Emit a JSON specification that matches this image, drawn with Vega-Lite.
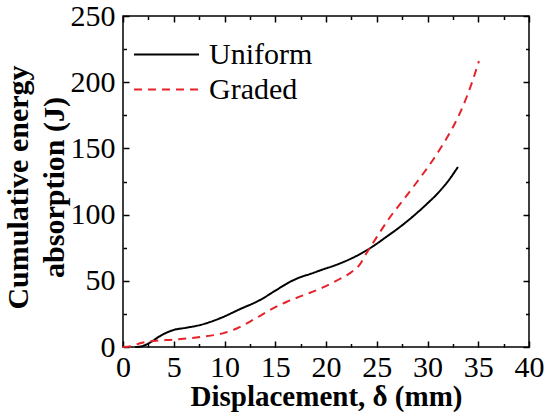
{
  "$schema": "https://vega.github.io/schema/vega-lite/v6.json",
  "width": 406,
  "height": 331,
  "autosize": {"type": "none"},
  "padding": {"left": 123, "top": 16, "right": 21, "bottom": 73},
  "config": {
    "font": "Liberation Serif",
    "view": {"stroke": "#000000", "strokeWidth": 1.5},
    "axis": {"domain": false, "grid": false, "tickColor": "#000000", "tickWidth": 1.5, "labelColor": "#000000", "titleColor": "#000000", "labelFontSize": 30, "labelFont": "Liberation Serif", "titleFont": "Liberation Serif", "titleFontSize": 29, "titleFontWeight": "bold", "labelOverlap": false, "labelFlush": false}
  },
  "data": {
    "values": [
      {"series": "Uniform", "d": 1.2, "E": 0},
      {"series": "Uniform", "d": 1.7, "E": 0.3},
      {"series": "Uniform", "d": 2.66, "E": 3.3},
      {"series": "Uniform", "d": 3.65, "E": 8.3},
      {"series": "Uniform", "d": 4.96, "E": 12.8},
      {"series": "Uniform", "d": 6.27, "E": 14.6},
      {"series": "Uniform", "d": 7.6, "E": 16.6},
      {"series": "Uniform", "d": 9.56, "E": 21.7},
      {"series": "Uniform", "d": 11.5, "E": 28.5},
      {"series": "Uniform", "d": 13.5, "E": 35.5},
      {"series": "Uniform", "d": 15.1, "E": 43},
      {"series": "Uniform", "d": 16.4, "E": 49},
      {"series": "Uniform", "d": 17.4, "E": 52.5},
      {"series": "Uniform", "d": 18.5, "E": 55.3},
      {"series": "Uniform", "d": 19.7, "E": 58.6},
      {"series": "Uniform", "d": 21, "E": 62},
      {"series": "Uniform", "d": 22.4, "E": 66.5},
      {"series": "Uniform", "d": 24, "E": 73},
      {"series": "Uniform", "d": 25, "E": 78},
      {"series": "Uniform", "d": 26, "E": 83.5},
      {"series": "Uniform", "d": 27, "E": 89},
      {"series": "Uniform", "d": 28, "E": 95},
      {"series": "Uniform", "d": 29, "E": 101.5},
      {"series": "Uniform", "d": 30, "E": 108.5},
      {"series": "Uniform", "d": 31, "E": 116},
      {"series": "Uniform", "d": 32, "E": 125},
      {"series": "Uniform", "d": 33, "E": 136},
      {"series": "Graded", "d": 0, "E": 0},
      {"series": "Graded", "d": 1, "E": 1},
      {"series": "Graded", "d": 1.67, "E": 2.8},
      {"series": "Graded", "d": 3, "E": 4.5},
      {"series": "Graded", "d": 4.96, "E": 5.6},
      {"series": "Graded", "d": 7.6, "E": 7.6},
      {"series": "Graded", "d": 9.9, "E": 10.5},
      {"series": "Graded", "d": 11.2, "E": 14},
      {"series": "Graded", "d": 12.8, "E": 20.4},
      {"series": "Graded", "d": 14.5, "E": 28},
      {"series": "Graded", "d": 16.1, "E": 34},
      {"series": "Graded", "d": 17.4, "E": 38},
      {"series": "Graded", "d": 19.7, "E": 45},
      {"series": "Graded", "d": 21, "E": 50},
      {"series": "Graded", "d": 22.4, "E": 56},
      {"series": "Graded", "d": 23.3, "E": 62},
      {"series": "Graded", "d": 24, "E": 71},
      {"series": "Graded", "d": 25, "E": 83},
      {"series": "Graded", "d": 26.3, "E": 98},
      {"series": "Graded", "d": 27.5, "E": 110},
      {"series": "Graded", "d": 29, "E": 125},
      {"series": "Graded", "d": 30.6, "E": 142},
      {"series": "Graded", "d": 31.6, "E": 154},
      {"series": "Graded", "d": 32.5, "E": 166},
      {"series": "Graded", "d": 33.5, "E": 182},
      {"series": "Graded", "d": 34.3, "E": 198},
      {"series": "Graded", "d": 35.07, "E": 216}
    ]
  },
  "layer": [
    {
      "mark": {"type": "line", "interpolate": "monotone", "strokeWidth": 2},
      "encoding": {
        "x": {"field": "d", "type": "quantitative", "scale": {"domain": [0, 40], "nice": false},
              "axis": {"orient": "bottom", "values": [0, 5, 10, 15, 20, 25, 30, 35, 40], "tickSize": -6, "labelPadding": 11,
                       "title": "Displacement, δ (mm)", "titleY": 58, "titleBaseline": "alphabetic"}},
        "y": {"field": "E", "type": "quantitative", "scale": {"domain": [0, 250], "nice": false},
              "axis": {"orient": "left", "values": [0, 50, 100, 150, 200, 250], "tickSize": -6, "labelPadding": 14,
                       "title": ["Cumulative energy", "absorption (J)"], "titleFontSize": 30, "titleAngle": -90, "titleX": -96, "titleY": 171,
                       "titleAlign": "center", "titleBaseline": "alphabetic", "titleLineHeight": 36}},
        "color": {"field": "series", "type": "nominal",
                  "scale": {"domain": ["Uniform", "Graded"], "range": ["#000000", "#e5222a"]},
                  "legend": {"orient": "none", "legendX": 10, "legendY": 21, "title": null, "symbolType": "stroke",
                             "symbolSize": 4225, "symbolStrokeWidth": 2, "labelFontSize": 30, "labelFont": "Liberation Serif",
                             "labelColor": "#000000", "labelOffset": 9, "clipHeight": 35, "rowPadding": 0, "padding": 0}},
        "strokeDash": {"field": "series", "type": "nominal",
                       "scale": {"domain": ["Uniform", "Graded"], "range": [[1, 0], [8, 6]]}},
        "order": {"field": "d", "type": "quantitative"}
      }
    },
    {
      "mark": {"type": "point", "opacity": 0},
      "encoding": {
        "x": {"field": "d", "type": "quantitative",
              "axis": {"orient": "bottom", "values": [2.5, 7.5, 12.5, 17.5, 22.5, 27.5, 32.5, 37.5], "tickSize": -3.5, "labels": false, "title": null}},
        "y": {"field": "E", "type": "quantitative",
              "axis": {"orient": "left", "values": [25, 75, 125, 175, 225], "tickSize": -3.5, "labels": false, "title": null}}
      }
    },
    {
      "mark": {"type": "point", "opacity": 0},
      "encoding": {
        "x": {"field": "d", "type": "quantitative",
              "axis": {"orient": "top", "values": [0, 5, 10, 15, 20, 25, 30, 35, 40], "tickSize": -6, "labels": false, "title": null}},
        "y": {"field": "E", "type": "quantitative",
              "axis": {"orient": "right", "values": [0, 50, 100, 150, 200, 250], "tickSize": -6, "labels": false, "title": null}}
      }
    },
    {
      "mark": {"type": "point", "opacity": 0},
      "encoding": {
        "x": {"field": "d", "type": "quantitative",
              "axis": {"orient": "top", "values": [2.5, 7.5, 12.5, 17.5, 22.5, 27.5, 32.5, 37.5], "tickSize": -3.5, "labels": false, "title": null}},
        "y": {"field": "E", "type": "quantitative",
              "axis": {"orient": "right", "values": [25, 75, 125, 175, 225], "tickSize": -3.5, "labels": false, "title": null}}
      }
    }
  ],
  "resolve": {"axis": {"x": "independent", "y": "independent"}}
}
